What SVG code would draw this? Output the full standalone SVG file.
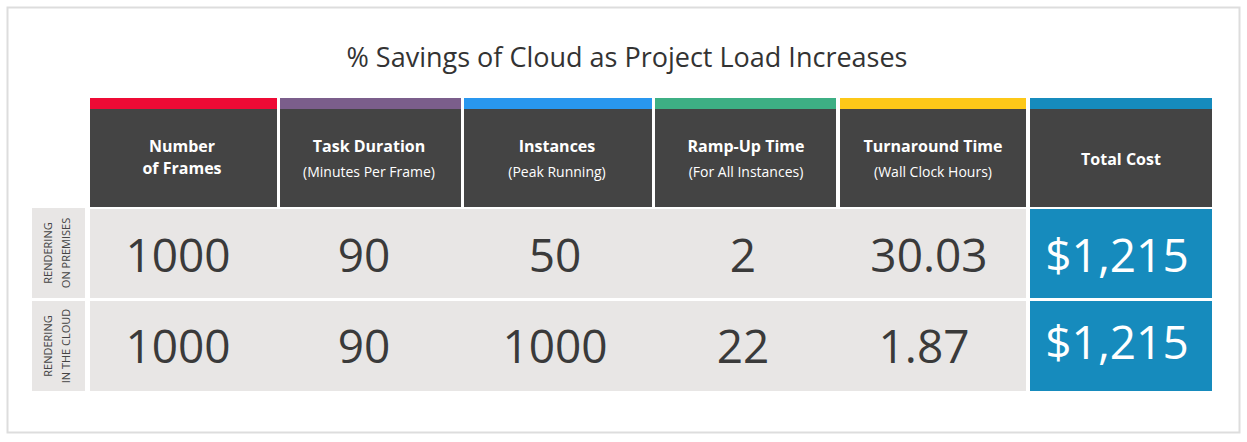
<svg xmlns="http://www.w3.org/2000/svg" width="1247" height="442" viewBox="0 0 1247 442">
<style>
text{font-family:"Open Sans","Liberation Sans",sans-serif;text-anchor:middle}
.h{fill:#444}
.ht{fill:#fff;font-weight:bold;font-size:16px}
.hs{fill:#fff;font-size:14px}
.c{fill:#e8e6e5}
.n{fill:#3a3a3a;font-size:46px}
.m{fill:#fff;font-size:46px}
.s{fill:#444;font-size:11px}
.t{fill:#168bbd}
</style>
<rect x="7.5" y="7.5" width="1232" height="425" fill="#fff" stroke="#ddd" stroke-width="2"/>
<text x="627" y="67" style="font-size:27px;fill:#333">% Savings of Cloud as Project Load Increases</text>
<g id="h1"><rect x="90" y="98" width="187" height="11" fill="#ee0a35"/><rect class="h" x="90" y="109" width="187" height="98"/><text class="ht" x="182" y="152">Number</text><text class="ht" x="182" y="174">of Frames</text></g>
<g id="h2"><rect x="280" y="98" width="181" height="11" fill="#7b5e8b"/><rect class="h" x="280" y="109" width="181" height="98"/><text class="ht" x="369" y="152">Task Duration</text><text class="hs" x="369" y="177">(Minutes Per Frame)</text></g>
<g id="h3"><rect x="464" y="98" width="188" height="11" fill="#2997ef"/><rect class="h" x="464" y="109" width="188" height="98"/><text class="ht" x="557" y="152">Instances</text><text class="hs" x="557" y="177">(Peak Running)</text></g>
<g id="h4"><rect x="655" y="98" width="181" height="11" fill="#3daf84"/><rect class="h" x="655" y="109" width="181" height="98"/><text class="ht" x="746" y="152">Ramp-Up Time</text><text class="hs" x="746" y="177">(For All Instances)</text></g>
<g id="h5"><rect x="840" y="98" width="186" height="11" fill="#fdc818"/><rect class="h" x="840" y="109" width="186" height="98"/><text class="ht" x="933" y="152">Turnaround  Time</text><text class="hs" x="933" y="177">(Wall Clock Hours)</text></g>
<g id="h6"><rect x="1030" y="98" width="182" height="11" fill="#168bbd"/><rect class="h" x="1030" y="109" width="182" height="98"/><text class="ht" x="1121" y="165">Total Cost</text></g>
<g id="side1"><rect class="c" x="32" y="208" width="53" height="90"/><text class="s" transform="translate(52,253) rotate(-90)">RENDERING</text><text class="s" transform="translate(70,253) rotate(-90)">ON PREMISES</text></g>
<g id="side2"><rect class="c" x="32" y="301" width="53" height="90"/><text class="s" transform="translate(52,346) rotate(-90)">RENDERING</text><text class="s" transform="translate(70,346) rotate(-90)">IN THE CLOUD</text></g>
<g id="row1"><rect class="c" x="90" y="209" width="936" height="89"/>
<text class="n" x="178" y="272">1000</text><text class="n" x="364" y="272">90</text><text class="n" x="555" y="272">50</text><text class="n" x="743" y="272">2</text><text class="n" x="929" y="272">30.03</text>
<rect class="t" x="1030" y="209" width="182" height="89"/><text class="m" x="1117" y="272">$1,215</text></g>
<g id="row2"><rect class="c" x="90" y="301" width="936" height="90"/>
<text class="n" x="178" y="363">1000</text><text class="n" x="364" y="363">90</text><text class="n" x="555" y="363">1000</text><text class="n" x="743" y="363">22</text><text class="n" x="924" y="363">1.87</text>
<rect class="t" x="1030" y="301" width="182" height="90"/><text class="m" x="1117" y="359">$1,215</text></g>
<g id="connectors"/>
</svg>
